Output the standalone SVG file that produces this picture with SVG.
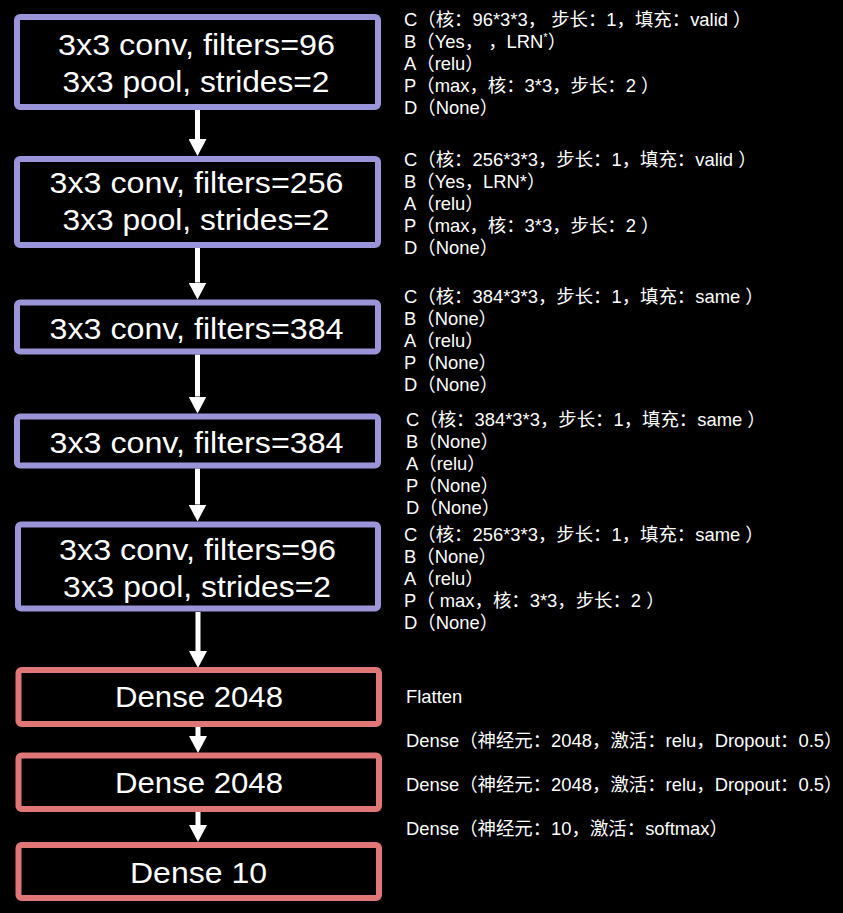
<svg xmlns="http://www.w3.org/2000/svg" width="843" height="913" viewBox="0 0 843 913">
  <style>
    .conv rect { fill: #000; stroke: #9a94d8; stroke-width: 6; }
    .dense rect { fill: #000; stroke: #e07676; stroke-width: 6; }
    .lbl { font-family: "Liberation Sans", Arial, sans-serif; font-size: 30px; fill: #fff; text-anchor: middle; }
    .note { font-family: "Liberation Sans", Arial, "Noto Sans CJK SC", sans-serif; font-size: 18.4px; fill: #fff; }
    .conn line { stroke: #fff; stroke-width: 5; }
  </style>
  <defs>
    <marker id="ah" viewBox="0 0 17 18" markerWidth="17" markerHeight="18" refX="0" refY="9" orient="auto" markerUnits="userSpaceOnUse">
      <path d="M0,0 L17,9 L0,18 Z" fill="#fff"/>
    </marker>
  </defs>
  <rect width="843" height="913" fill="#000"/>

  <g class="conn">
    <line x1="197.5" y1="110" x2="197.5" y2="139" marker-end="url(#ah)"/>
    <line x1="197.5" y1="248" x2="197.5" y2="282.5" marker-end="url(#ah)"/>
    <line x1="197.5" y1="354.5" x2="197.5" y2="396.5" marker-end="url(#ah)"/>
    <line x1="197.5" y1="468.5" x2="197.5" y2="504.5" marker-end="url(#ah)"/>
    <line x1="198" y1="612" x2="198" y2="651" marker-end="url(#ah)"/>
    <line x1="198" y1="727" x2="198" y2="736" marker-end="url(#ah)"/>
    <line x1="198" y1="812" x2="198" y2="825" marker-end="url(#ah)"/>
  </g>

  <g id="conv1" class="conv">
    <rect x="17" y="17" width="361" height="90" rx="3"/>
    <text class="lbl" x="196.5" y="55" textLength="277" lengthAdjust="spacingAndGlyphs">3x3 conv, filters=96</text>
    <text class="lbl" x="196" y="92" textLength="267" lengthAdjust="spacingAndGlyphs">3x3 pool, strides=2</text>
  </g>
  <g id="conv2" class="conv">
    <rect x="17" y="159" width="361" height="86" rx="3"/>
    <text class="lbl" x="196.5" y="193" textLength="294" lengthAdjust="spacingAndGlyphs">3x3 conv, filters=256</text>
    <text class="lbl" x="196" y="230" textLength="267" lengthAdjust="spacingAndGlyphs">3x3 pool, strides=2</text>
  </g>
  <g id="conv3" class="conv">
    <rect x="17" y="302.5" width="361" height="49" rx="3"/>
    <text class="lbl" x="196.5" y="339" textLength="294" lengthAdjust="spacingAndGlyphs">3x3 conv, filters=384</text>
  </g>
  <g id="conv4" class="conv">
    <rect x="17" y="416.5" width="361" height="49" rx="3"/>
    <text class="lbl" x="196.5" y="452.5" textLength="294" lengthAdjust="spacingAndGlyphs">3x3 conv, filters=384</text>
  </g>
  <g id="conv5" class="conv">
    <rect x="18" y="524.5" width="360" height="84" rx="3"/>
    <text class="lbl" x="197.5" y="559.5" textLength="277" lengthAdjust="spacingAndGlyphs">3x3 conv, filters=96</text>
    <text class="lbl" x="197" y="597" textLength="268" lengthAdjust="spacingAndGlyphs">3x3 pool, strides=2</text>
  </g>
  <g id="dense1" class="dense">
    <rect x="18.5" y="670" width="360.5" height="54" rx="3"/>
    <text class="lbl" x="199" y="706.5" textLength="168" lengthAdjust="spacingAndGlyphs">Dense 2048</text>
  </g>
  <g id="dense2" class="dense">
    <rect x="18.5" y="755.5" width="360.5" height="53.5" rx="3"/>
    <text class="lbl" x="199" y="793" textLength="168" lengthAdjust="spacingAndGlyphs">Dense 2048</text>
  </g>
  <g id="dense3" class="dense">
    <rect x="18.5" y="845" width="360.5" height="53" rx="3"/>
    <text class="lbl" x="198.5" y="882.5" textLength="137" lengthAdjust="spacingAndGlyphs">Dense 10</text>
  </g>

  <g id="notes1" class="note">
    <text x="404" y="26">C（核：96*3*3， 步长：1，填充：valid ）</text>
    <text x="404" y="48">B（Yes，  ，LRN<tspan font-size="11" dy="-7">*</tspan><tspan dy="7">）</tspan></text>
    <text x="404" y="70">A（relu）</text>
    <text x="404" y="92">P（max，核：3*3，步长：2 ）</text>
    <text x="404" y="114">D（None）</text>
  </g>
  <g id="notes2" class="note">
    <text x="404" y="166">C（核：256*3*3，步长：1，填充：valid ）</text>
    <text x="404" y="188">B（Yes，LRN*）</text>
    <text x="404" y="210">A（relu）</text>
    <text x="404" y="232">P（max，核：3*3，步长：2 ）</text>
    <text x="404" y="254">D（None）</text>
  </g>
  <g id="notes3" class="note">
    <text x="404" y="303">C（核：384*3*3，步长：1，填充：same ）</text>
    <text x="404" y="325">B（None）</text>
    <text x="404" y="347">A（relu）</text>
    <text x="404" y="369">P（None）</text>
    <text x="404" y="391">D（None）</text>
  </g>
  <g id="notes4" class="note">
    <text x="406" y="426">C（核：384*3*3，步长：1，填充：same ）</text>
    <text x="406" y="448">B（None）</text>
    <text x="406" y="470">A（relu）</text>
    <text x="406" y="492">P（None）</text>
    <text x="406" y="514">D（None）</text>
  </g>
  <g id="notes5" class="note">
    <text x="404" y="541">C（核：256*3*3，步长：1，填充：same ）</text>
    <text x="404" y="563">B（None）</text>
    <text x="404" y="585">A（relu）</text>
    <text x="404" y="607">P（ max，核：3*3，步长：2 ）</text>
    <text x="404" y="629">D（None）</text>
  </g>
  <g id="notes6" class="note">
    <text x="406" y="703">Flatten</text>
    <text x="406" y="747">Dense（神经元：2048，激活：relu，Dropout：0.5）</text>
    <text x="406" y="791">Dense（神经元：2048，激活：relu，Dropout：0.5）</text>
    <text x="406" y="835">Dense（神经元：10，激活：softmax）</text>
  </g>
</svg>
